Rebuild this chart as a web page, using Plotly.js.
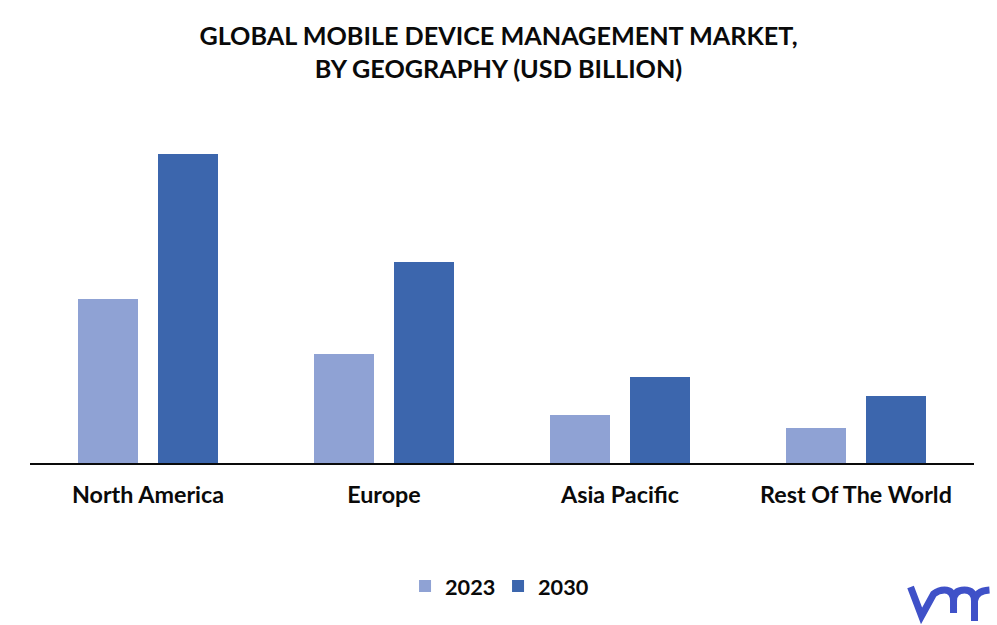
<!DOCTYPE html>
<html><head><meta charset="utf-8"><script src="https://cdn.plot.ly/plotly-3.0.1.min.js"></script>
<style>html,body{margin:0;padding:0;background:#fff}</style></head><body><div id="c" style="width:997px;height:625px"></div>
<script>
const categories=["North America","Europe","Asia Pacific","Rest Of The World"];
const values2023=[164,109,48,35];
const values2030=[309,201,86,67];
const titleText="<b>GLOBAL MOBILE DEVICE MANAGEMENT MARKET,</b><br><b>BY GEOGRAPHY (USD BILLION)</b>";
const F="Lato, 'Open Sans', sans-serif";
const INK="#0a0a0a";
const W=997,H=625,mL=29.5,mR=22.5,mT=120,mB=162;
const logoStrokes=[
 "M911,587 L922,616 L934,594 Q939,590 945,590 Q954,590 954,601 L954,613",
 "M954,601 Q954,590 965,590 Q975,590 975,601 L975,621",
 "M975,601 Q976,591 990,590"
];
const px=x=>(x-mL)/(W-mL-mR), py=y=>1-(y-mT)/(H-mT-mB);
const toPaper=d=>d.replace(/(-?[\d.]+),(-?[\d.]+)/g,(m,a,b)=>px(+a)+","+py(+b));
const logoShapes=logoStrokes.map(s=>({type:"path",xref:"paper",yref:"paper",path:toPaper(s),
 line:{color:"#3f51c8",width:7},fillcolor:"rgba(0,0,0,0)"}));
Plotly.newPlot("c",[
{type:"bar",name:"2023",x:categories,y:values2023,marker:{color:"#8fa2d4"}},
{type:"bar",name:"2030",x:categories,y:values2030,marker:{color:"#3c66ad"}}
],{width:W,height:H,paper_bgcolor:"#fff",plot_bgcolor:"#fff",
font:{family:F,color:INK},
title:{text:titleText,font:{family:F,size:25.2,color:INK},x:0.5,xanchor:"center",y:0.928,yanchor:"middle"},
margin:{l:mL,r:mR,t:mT,b:mB},
bargap:0.322,bargroupgap:0.25,
shapes:logoShapes,
xaxis:{type:"category",showline:true,linecolor:INK,linewidth:2,ticks:"",ticklabelstandoff:10,tickfont:{family:F,size:23.3,weight:700,color:INK},showgrid:false},
yaxis:{range:[0,343],visible:false,showgrid:false,zeroline:false},
legend:{orientation:"h",x:0.4958,xanchor:"center",y:-0.36,yanchor:"middle",entrywidth:48,entrywidthmode:"pixels",font:{family:F,size:21.7,weight:700,color:INK}},
showlegend:true},{displayModeBar:false});
</script></body></html>
